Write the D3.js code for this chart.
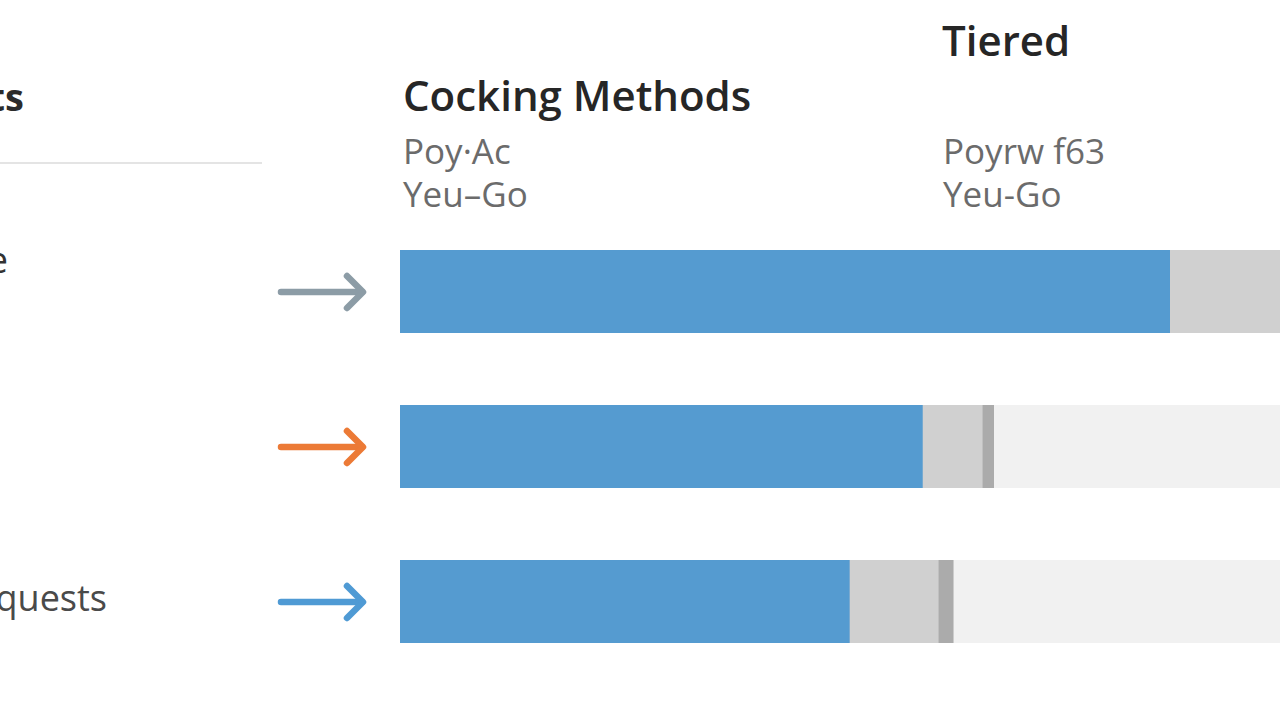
<!DOCTYPE html>
<html><head><meta charset="utf-8">
<script src="https://cdn.jsdelivr.net/npm/d3@7"></script>
<style>body{margin:0;background:#fff;overflow:hidden}svg{display:block}text{font-family:"Open Sans","Noto Sans",sans-serif}</style>
</head><body>
<svg id="c" width="1280" height="720"></svg>
<script>
// Data
const rows = ["Sample", "", "Requests"];
const arrowColors = ["#8c9ca6", "#ec7a36", "#4f9ad4"];
const payAsYouGo = [87.5, 59.4, 51.1];      // blue segment
const tiered = [100, 66.2, 61.2];           // mid-grey segment end
const marker = [100, 67.5, 62.9];           // darker marker end
const total = [100, 100, 100];              // light track
const colHeaders = ["Cocking Methods", "Tiered"];
const colSub1 = ["Poy\u00b7Ac", "Poyrw f63"];
const colSub2 = ["Yeu\u2013Go", "Yeu-Go"];

const svg = d3.select("#c");
const x = d3.scaleLinear().domain([0, 100]).range([400, 1280]);
const y = d3.scaleBand().domain(d3.range(rows.length)).range([250, 643]).paddingInner(0.8844).paddingOuter(0);
const bh = 83;
const yPos = i => 250 + i * 155;

// Left header
svg.append("text").attr("x", 24).attr("y", 111).attr("text-anchor", "end")
  .attr("font-size", 38).attr("font-weight", 700).attr("fill", "#2b2b2b").text("Costs");
svg.append("line").attr("x1", 0).attr("x2", 262).attr("y1", 163).attr("y2", 163)
  .attr("stroke", "#e4e4e4").attr("stroke-width", 2);

// Column headers
svg.append("text").attr("x", 403).attr("y", 111).attr("font-size", 42).attr("font-weight", 600)
  .attr("fill", "#262626").text(colHeaders[0]);
svg.append("text").attr("x", 942).attr("y", 56).attr("font-size", 42).attr("font-weight", 600)
  .attr("fill", "#262626").text(colHeaders[1]);
[[403, 0], [943, 1]].forEach(([px, i]) => {
  svg.append("text").attr("x", px).attr("y", 164).attr("font-size", 35).attr("fill", "#6b6b6b").text(colSub1[i]);
  svg.append("text").attr("x", px).attr("y", 207).attr("font-size", 35).attr("fill", "#6b6b6b").text(colSub2[i]);
});

// Row labels (clipped at left edge, as in the reference)
const labelX = [8, 0, 107];
const labelY = [273, 459, 611];
rows.forEach((r, i) => {
  if (!r) return;
  svg.append("text").attr("x", labelX[i]).attr("y", labelY[i]).attr("text-anchor", "end")
    .attr("font-size", 36).attr("fill", i === 0 ? "#333" : "#4a4a4a").text(r);
});

// Bars
const g = svg.append("g");
rows.forEach((r, i) => {
  const yy = yPos(i);
  g.append("rect").attr("x", x(0)).attr("y", yy).attr("width", x(total[i]) - x(0)).attr("height", bh).attr("fill", "#f1f1f1");
  g.append("rect").attr("x", x(0)).attr("y", yy).attr("width", x(marker[i]) - x(0)).attr("height", bh).attr("fill", "#ababab");
  g.append("rect").attr("x", x(0)).attr("y", yy).attr("width", x(tiered[i]) - x(0)).attr("height", bh).attr("fill", "#d0d0d0");
  g.append("rect").attr("x", x(0)).attr("y", yy).attr("width", x(payAsYouGo[i]) - x(0)).attr("height", bh).attr("fill", "#559bd0");

  // arrow
  const cy = yy + bh / 2 + 0.5;
  const a = svg.append("g").attr("stroke", arrowColors[i]).attr("stroke-width", 6.5)
    .attr("stroke-linecap", "round").attr("stroke-linejoin", "round").attr("fill", "none");
  a.append("line").attr("x1", 281).attr("x2", 362).attr("y1", cy).attr("y2", cy);
  a.append("polyline").attr("points", `347,${cy - 16} 363,${cy} 347,${cy + 16}`);
});
</script>
</body></html>
